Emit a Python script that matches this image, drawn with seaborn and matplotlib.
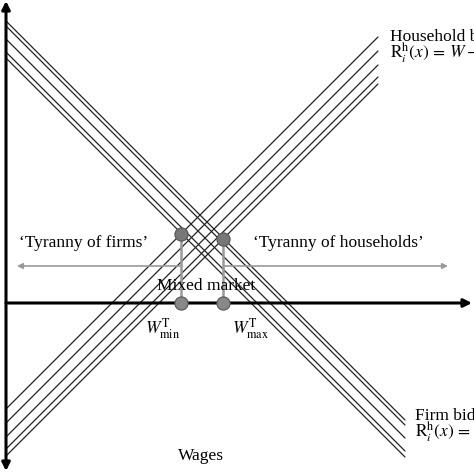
import pandas as pd
import matplotlib
matplotlib.use("Agg")
import matplotlib.pyplot as plt
import seaborn as sns

# bid-rent lines: y = x + h (households) and y = f - x (firms)
household_intercepts = [-106, -120, -134, -146, -153]
firm_intercepts = [282, 277, 264, 251, 245]
household_x_end = 372
firm_x_end = 399

rows = []
for i, h in enumerate(household_intercepts):
    for x in (0, household_x_end):
        rows.append({"line": f"h{i}", "x": x, "y": x + h})
for i, f in enumerate(firm_intercepts):
    for x in (0, firm_x_end):
        rows.append({"line": f"f{i}", "x": x, "y": f - x})
df = pd.DataFrame(rows)

#threshold wages: top household vs lowest firm, lowest household vs top firm
w_min = (firm_intercepts[-1] - household_intercepts[0]) / 2
w_max = (firm_intercepts[0] - household_intercepts[-1]) / 2
pts = pd.DataFrame({"x": [w_min, w_max],
                    "y": [w_min + household_intercepts[0], w_max + household_intercepts[-1]]})

sns.set_theme(style="white")
plt.rcParams["font.family"] = ["Liberation Serif", "DejaVu Serif"]
plt.rcParams["mathtext.fontset"] = "stix"
plt.rcParams["text.color"] = "black"

fig = plt.figure(figsize=(4.74, 4.74), dpi=100)
ax = fig.add_axes([0, 0, 1, 1])

sns.lineplot(data=df, x="x", y="y", units="line", estimator=None,
             color="#222222", lw=0.9, ax=ax, legend=False)

#axes with arrows
ax.annotate("", xy=(0, 302), xytext=(0, -168),
            arrowprops=dict(arrowstyle="<|-|>", lw=2.2, color="black",
                            mutation_scale=12, shrinkA=0, shrinkB=0))
ax.annotate("", xy=(466, 0), xytext=(0, 0),
            arrowprops=dict(arrowstyle="-|>", lw=2.2, color="black",
                            mutation_scale=12, shrinkA=0, shrinkB=0))

#gray regime arrows
ax.annotate("", xy=(11, 37), xytext=(w_min, 37),
            arrowprops=dict(arrowstyle="-|>", lw=1.2, color="#999999",
                            mutation_scale=8, shrinkA=0, shrinkB=0))
ax.annotate("", xy=(442, 37), xytext=(w_max, 37),
            arrowprops=dict(arrowstyle="-|>", lw=1.2, color="#999999",
                            mutation_scale=8, shrinkA=0, shrinkB=0))

ax.vlines(pts["x"], 0, pts["y"], color="#999999", lw=1.8, zorder=3)
sns.scatterplot(data=pts, x="x", y="y", s=90, color="#777777",
                edgecolor="#555555", linewidth=0.8, zorder=4, ax=ax, legend=False)
sns.scatterplot(x=pts["x"], y=[0, 0], s=90, color="#888888",
                edgecolor="#555555", linewidth=0.8, zorder=4, ax=ax, legend=False)
ax.set_xlim(-6, 468)
ax.set_ylim(-171, 303)
ax.axis("off")

fs = 12.5
ax.text(78, 60, "\u2018Tyranny of firms\u2019", ha="center", va="center", fontsize=fs)
ax.text(332, 60, "\u2018Tyranny of households\u2019", ha="center", va="center", fontsize=fs)
ax.text(200, 17, "Mixed market", ha="center", va="center", fontsize=fs, zorder=5)
ax.text(w_min - 19, -26, r"$W_{\mathrm{min}}^{\mathrm{T}}$", ha="center", va="center", fontsize=fs)
ax.text(w_max + 27, -26, r"$W_{\mathrm{max}}^{\mathrm{T}}$", ha="center", va="center", fontsize=fs)
ax.text(195, -153, "Wages", ha="center", va="center", fontsize=fs)
ax.text(384, 256, "Household bid rent\n" + r"$\mathrm{R}_i^{\mathrm{h}}(x)\,=\,W-c(x)$",
        ha="left", va="center", fontsize=fs, linespacing=0.7)
ax.text(409, -123, "Firm bid rent\n" + r"$\mathrm{R}_i^{\mathrm{h}}(x)\,=\,W-c(x)$",
        ha="left", va="center", fontsize=fs, linespacing=0.7)

fig.savefig("out.png", dpi=100)
